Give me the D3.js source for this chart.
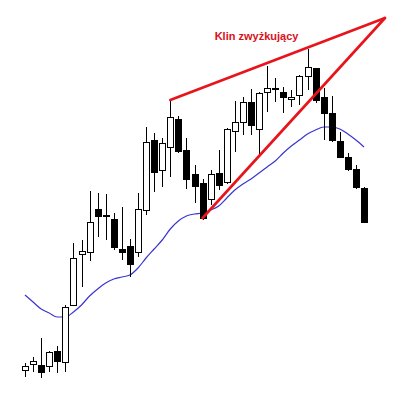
<!DOCTYPE html>
<html>
	<head>
		<meta charset="utf-8">
		<title>Klin zwyżkujący</title>
		<script src="https://d3js.org/d3.v7.min.js"></script>
		<style>
			body { margin: 0; background: #fff; }
			.wick { stroke: #000; stroke-width: 1px; shape-rendering: crispEdges; }
			.body { stroke: #000; stroke-width: 1px; shape-rendering: crispEdges; }
			.ma { fill: none; stroke: #3a35d0; stroke-width: 1.2px; }
			.wedge { fill: none; stroke: #e8141c; stroke-width: 2.6px; stroke-linecap: round; }
		</style>
	</head>
	<body>
		<svg width="400" height="400"></svg>

		<script type="text/javascript">
			// price series (arbitrary points)
			var open  = [30,36,35,34,49,38,95,146,148,191,185,181,151,154,148,190,260,230,253,281,250,226,217,201,227,218,269,278,298,271,308,312,308,301,305,324,332,303,287,259,243,231,212];
			var high  = [37,43,62,49,54,95,157,160,209,207,206,187,193,161,207,273,267,262,300,284,262,235,221,230,250,272,299,303,311,308,334,322,313,310,325,351,332,312,304,268,247,235,213];
			var low   = [23,28,22,28,27,28,94,113,139,163,160,150,140,123,143,185,208,213,223,247,211,197,180,195,210,216,248,265,265,245,288,298,287,293,295,310,297,260,258,243,229,211,178];
			var close = [34,39,28,48,39,93,142,149,178,184,184,153,148,136,191,258,228,257,283,249,221,214,182,226,215,271,278,298,275,307,312,312,303,303,324,333,300,287,260,243,231,213,178];

			// moving average
			var ma = [105,98,91,87,83,83,88,95,104,111,117,121,123,125,132,142,151,160,171,179,184,186,187,190,194,202,210,216,221,227,233,239,247,254,260,266,270,273,273,271,266,260,253];

			// wedge lines: [index, price]
			var upperLine = [[18, 300], [44.6, 382]];
			var lowerLine = [[22, 182], [44.6, 382]];
			var label = "Klin zwyżkujący";

			var svg = d3.select("svg"),
			    width = +svg.attr("width"),
			    height = +svg.attr("height");

			var x = d3.scaleLinear().domain([0, 42]).range([25, 364]);
			var y = d3.scaleLinear().domain([0, 400]).range([400, 0]);
			var bodyW = 6;

			var candles = d3.range(open.length).map(function(i) {
			  return { i: i, o: open[i], h: high[i], l: low[i], c: close[i] };
			});

			var px = function(d) { return Math.round(x(d.i)) + 0.5; };

			// moving average
			svg.append("path")
			    .attr("class", "ma")
			    .attr("d", d3.line()
			        .x(function(d, i) { return x(i); })
			        .y(function(d) { return y(d); })
			        .curve(d3.curveMonotoneX)(ma));

			var g = svg.selectAll("g.candle")
			    .data(candles)
			    .enter()
			    .append("g")
			    .attr("class", "candle");

			g.append("line")
			    .attr("class", "wick")
			    .attr("x1", px)
			    .attr("x2", px)
			    .attr("y1", function(d) { return Math.round(y(d.h)); })
			    .attr("y2", function(d) { return Math.round(y(d.l)); });

			g.append("rect")
			    .attr("class", "body")
			    .attr("x", function(d) { return px(d) - bodyW / 2; })
			    .attr("y", function(d) { return Math.round(y(Math.max(d.o, d.c))) + 0.5; })
			    .attr("width", bodyW)
			    .attr("height", function(d) { return Math.max(1, Math.round(Math.abs(y(d.o) - y(d.c)))); })
			    .style("fill", function(d) { return d.c > d.o ? "#fff" : "#000"; });

			// wedge
			var wedge = d3.line()
			    .x(function(d) { return x(d[0]); })
			    .y(function(d) { return y(d[1]); });

			svg.append("path").attr("class", "wedge").attr("d", wedge(upperLine));
			svg.append("path").attr("class", "wedge").attr("d", wedge(lowerLine));

			svg.append("text")
			    .attr("x", x(23.5))
			    .attr("y", y(360))
			    .attr("fill", "#d9101a")
			    .attr("font-family", "Liberation Sans, Arial, sans-serif")
			    .attr("font-weight", "bold")
			    .attr("font-size", 11)
			    .text(label);
		</script>
	</body>
</html>
